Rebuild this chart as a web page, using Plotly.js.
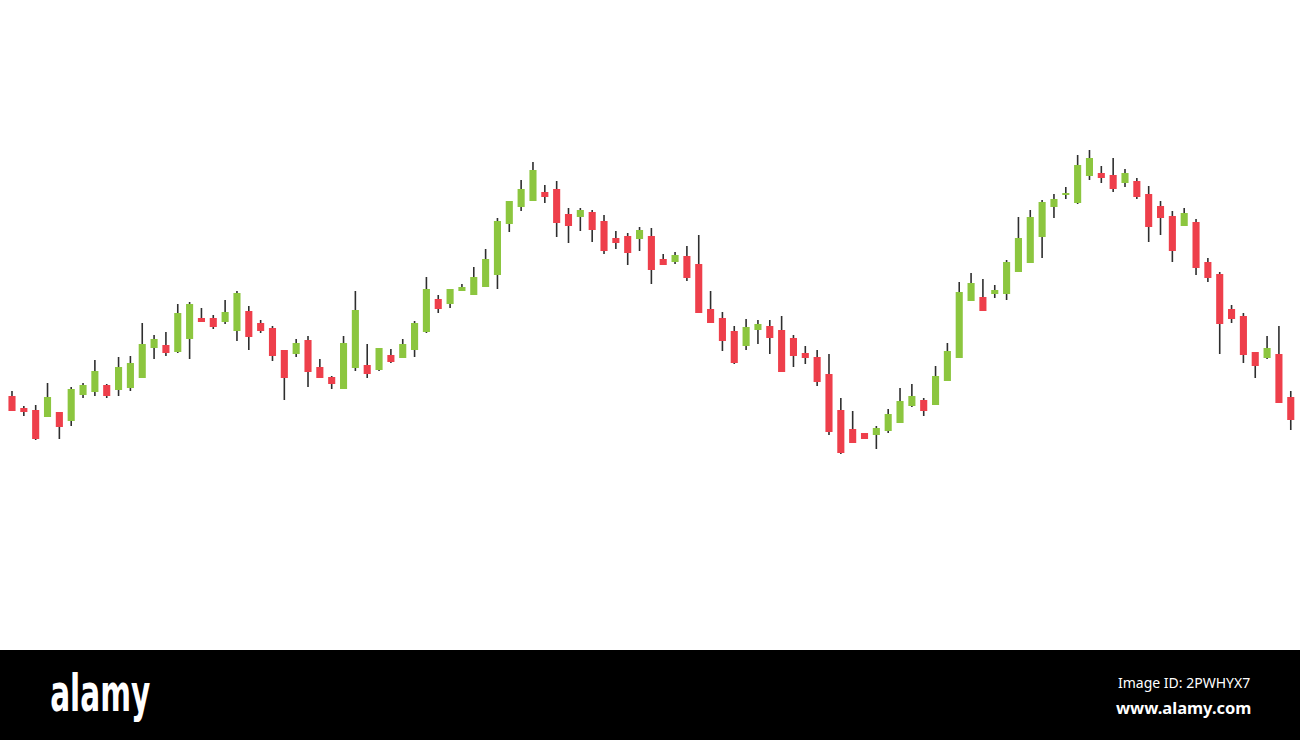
<!DOCTYPE html>
<html>
<head>
<meta charset="utf-8">
<script src="https://cdn.plot.ly/plotly-3.0.1.min.js"></script>
<style>
  html, body { margin: 0; padding: 0; background: #ffffff; }
  #chart { width: 1300px; height: 740px; }
</style>
</head>
<body>
<div id="chart"></div>
<script>
// Candle values (price units), one entry per session
const open  = [104,92,90,83,88,79,105,108,115,110,112,122,152,155,148,161,182,182,178,169,
               189,177,172,150,146,160,133,123,111,132,135,130,145,142,150,168,201,196,209,205,
               213,225,276,293,299,308,311,286,283,288,279,262,264,261,264,241,238,244,236,191,
               182,169,154,170,174,170,162,147,143,126,90,71,67,65,69,77,94,100,95,119,
               142,199,203,206,206,228,237,263,293,305,297,324,327,325,317,319,306,294,284,274,
               278,238,226,191,184,148,142,146,103];
const high  = [109,94,95,117,88,113,117,140,116,143,144,177,165,168,196,198,192,185,200,209,
               194,180,174,150,161,164,141,124,164,209,156,152,151,161,179,223,205,211,216,233,
               251,282,299,320,338,315,319,292,292,290,285,269,267,273,272,246,248,254,265,209,
               188,174,181,180,180,184,165,154,150,146,102,89,67,74,91,112,116,102,134,157,
               218,227,221,215,240,283,290,300,306,313,345,350,334,342,331,322,314,299,289,292,
               281,242,228,195,187,148,164,174,109];
const low   = [89,84,60,83,61,74,102,104,102,104,109,122,141,144,147,141,178,171,176,159,
               150,167,139,100,143,113,122,111,111,129,122,129,137,142,143,167,187,192,209,205,
               213,211,268,289,299,297,263,257,269,258,246,251,235,249,216,235,236,219,187,177,
               149,136,150,156,146,128,133,136,114,65,46,57,61,51,67,77,93,84,95,119,
               142,199,189,202,200,228,237,242,282,301,296,320,317,308,313,301,258,265,238,274,
               225,218,146,177,137,122,141,97,70];
const close = [89,88,61,103,73,111,115,129,104,133,137,156,161,147,187,196,178,173,188,207,
               163,169,144,122,157,128,122,116,157,190,126,152,138,156,177,211,191,211,213,223,
               241,279,299,311,330,303,277,274,290,270,249,257,247,270,230,235,245,222,187,177,
               159,137,173,176,162,128,144,142,118,68,47,57,61,72,86,99,104,89,124,149,
               208,217,189,210,238,262,283,298,301,307,335,342,322,311,327,303,273,282,249,287,
               232,222,176,181,145,134,152,97,80];

const upColor = '#8cc63f';
const downColor = '#ee3f4b';
const wickColor = '#2e2e2e';

const idx = open.map((_, i) => i);
const bodyTop = idx.map(i => Math.max(open[i], close[i]));
const bodyBot = idx.map(i => Math.min(open[i], close[i]));

// wicks: upper (body top -> high) and lower (low -> body bottom) segments, so bodies are never crossed
const wickX = [], wickY = [];
idx.forEach(i => {
  if (high[i] > bodyTop[i]) { wickX.push(i, i, null); wickY.push(bodyTop[i], high[i], null); }
  if (low[i] < bodyBot[i])  { wickX.push(i, i, null); wickY.push(low[i], bodyBot[i], null); }
});

const bodyLen  = idx.map(i => Math.max(bodyTop[i] - bodyBot[i], 1.5));
const bodyCol  = idx.map(i => close[i] >= open[i] ? upColor : downColor);

const traces = [
  {
    type: 'scatter', mode: 'lines', x: wickX, y: wickY,
    line: { color: wickColor, width: 1.6 }, hoverinfo: 'skip', showlegend: false
  },
  {
    type: 'bar', x: idx, y: bodyLen, base: bodyBot, width: 0.6,
    marker: { color: bodyCol, line: { width: 0 } }, showlegend: false,
    hovertemplate: 'O %{customdata[0]}<br>H %{customdata[1]}<br>L %{customdata[2]}<br>C %{customdata[3]}<extra></extra>',
    customdata: idx.map(i => [open[i], high[i], low[i], close[i]])
  }
];

const layout = {
  width: 1300, height: 740,
  margin: { l: 0, r: 0, t: 0, b: 0 },
  paper_bgcolor: '#ffffff', plot_bgcolor: '#ffffff',
  showlegend: false,
  xaxis: { range: [-1.013, 108.78], visible: false, fixedrange: true },
  yaxis: { range: [-240, 500], visible: false, fixedrange: true },
  shapes: [
    { type: 'rect', xref: 'paper', yref: 'paper', x0: 0, x1: 1, y0: 0, y1: 90/740,
      fillcolor: '#000000', line: { width: 0 }, layer: 'below' }
  ],
  annotations: [
    { xref: 'paper', yref: 'paper', x: 100/1300, y: 1 - 693/740, xanchor: 'center', yanchor: 'middle',
      text: '<b>alamy</b>', showarrow: false,
      font: { family: '"DejaVu Sans Condensed", "Liberation Sans Narrow", Arial, sans-serif', size: 52, color: '#ffffff' } },
    { xref: 'paper', yref: 'paper', x: 1116/1300, y: 1 - 682/740, xanchor: 'left', yanchor: 'middle',
      text: 'Image ID: 2PWHYX7', showarrow: false,
      font: { family: '"Noto Sans", "Open Sans", sans-serif', size: 14, color: '#ffffff' } },
    { xref: 'paper', yref: 'paper', x: 1114/1300, y: 1 - 707/740, xanchor: 'left', yanchor: 'middle',
      text: '<b>www.alamy.com</b>', showarrow: false,
      font: { family: '"Noto Sans", "Open Sans", sans-serif', size: 16.5, color: '#ffffff' } }
  ]
};

Plotly.newPlot('chart', traces, layout, { displayModeBar: false, staticPlot: true }).then(gd => {
  // condense the wordmark to its narrow width in the reference
  const t = gd.querySelectorAll('.annotation-text')[0];
  if (t) {
    t.setAttribute('textLength', '100');
    t.setAttribute('lengthAdjust', 'spacingAndGlyphs');
  }
});
</script>
</body>
</html>
